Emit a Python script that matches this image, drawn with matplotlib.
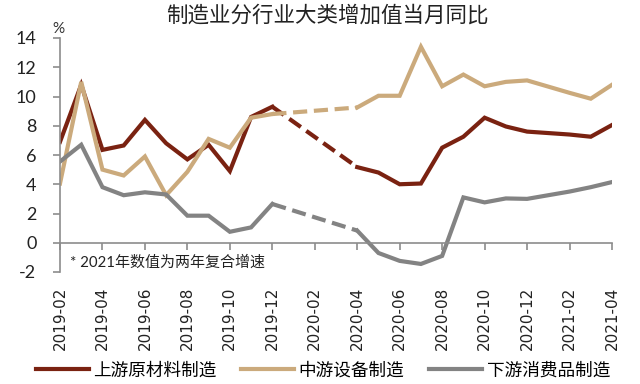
import matplotlib
matplotlib.use("Agg")
import matplotlib.pyplot as plt
import numpy as np

plt.rcParams['font.family'] = ['Lato', 'Noto Sans CJK SC', 'DejaVu Sans']

months = ['2019-02', '2019-03', '2019-04', '2019-05', '2019-06', '2019-07', '2019-08',
          '2019-09', '2019-10', '2019-11', '2019-12', '2020-01', '2020-02', '2020-03',
          '2020-04', '2020-05', '2020-06', '2020-07', '2020-08', '2020-09', '2020-10',
          '2020-11', '2020-12', '2021-01', '2021-02', '2021-03', '2021-04']
tick_labels = months[::2]

upstream = [6.9, 10.8, 6.35, 6.65, 8.4, 6.8, 5.7, 6.7, 4.9, 8.6, 9.3, None, None, None,
            5.17, 4.8, 4.0, 4.05, 6.5, 7.25, 8.55, 7.95, 7.6, None, 7.4, 7.25, 8.05]
midstream = [4.05, 11.0, 5.0, 4.6, 5.9, 3.25, 4.85, 7.1, 6.5, 8.55, 8.8, None, None, None,
             9.25, 10.05, 10.05, 13.4, 10.7, 11.5, 10.7, 11.0, 11.1, None, 10.25, 9.85, 10.8]
downstream = [5.55, 6.7, 3.8, 3.25, 3.45, 3.3, 1.85, 1.85, 0.75, 1.05, 2.65, None, None, None,
              0.83, -0.7, -1.24, -1.45, -0.9, 3.1, 2.76, 3.03, 3.0, None, 3.5, 3.8, 4.15]

names = ['上游原材料制造', '中游设备制造', '下游消费品制造']
colors = ['#7A2211', '#CBAA7C', '#838383']
series = [upstream, midstream, downstream]

fig = plt.figure(figsize=(6.4, 3.84), dpi=100)
ax = fig.add_axes([60/640, 1-272/384, (612-60)/640, (272-38)/384])

x = np.arange(len(months))
gap_start, gap_end = 10, 14
lw = 3.0
for vals, c, name in zip(series, colors, names):
    v = np.array([np.nan if a is None else a for a in vals], dtype=float)
    m1 = (x <= gap_start)
    ax.plot(x[m1], v[m1], color=c, lw=lw, solid_joinstyle='miter', label=name)
    m2 = (x >= gap_end) & ~np.isnan(v)
    ax.plot(x[m2], v[m2], color=c, lw=lw, solid_joinstyle='miter')
    ax.plot([gap_start, gap_end], [v[gap_start], v[gap_end]], color=c, lw=lw,
            ls=(0, (3.4, 1.6)))

ax.set_xlim(0, 26)
ax.set_ylim(-2, 14)
ax.set_yticks(np.arange(-2, 15, 2))
ax.set_yticklabels([str(t) for t in range(-2, 15, 2)])
for lbl in ax.get_yticklabels():
    if lbl.get_text().startswith('-'):
        lbl.set_color('#E02020')

for s in ['top', 'right']:
    ax.spines[s].set_visible(False)
ax.spines['left'].set_color('#8C8C8C')
ax.spines['bottom'].set_color('#8C8C8C')
ax.spines['bottom'].set_position(('data', 0))
ax.spines['left'].set_linewidth(1.2)
ax.spines['bottom'].set_linewidth(1.2)
ax.tick_params(axis='y', direction='out', length=5, width=1.2, color='#8C8C8C',
               labelsize=13, pad=12, labelcolor='#222222')
ax.set_xticks(x[::2])
ax.tick_params(axis='x', direction='out', length=5, width=1.2, color='#8C8C8C',
               labelbottom=False)

sec = ax.secondary_xaxis(0.0)
sec.set_xticks(x[::2])
sec.set_xticklabels(tick_labels, rotation=90, family='DejaVu Sans')
sec.tick_params(length=0, labelsize=11, pad=10.5, labelcolor='#222222')
sec.spines['bottom'].set_visible(False)

ax.text(-0.38, 14.15, '%', fontsize=11, color='#333333', va='bottom', ha='left')
ax.text(0.45, -1.35, '* 2021年数值为两年复合增速', fontsize=10.8, color='#222222',
        va='center', ha='left')

fig.text(327/640, 1-15/384, '制造业分行业大类增加值当月同比', fontsize=15.5, ha='center',
         va='center', color='#222222')

fig.legend(loc='center', bbox_to_anchor=(323/640, 1-370/384), ncol=3, frameon=False,
           fontsize=12.7, handlelength=3.0, handletextpad=0.25, columnspacing=1.4)

fig.savefig('out.png', dpi=100)
